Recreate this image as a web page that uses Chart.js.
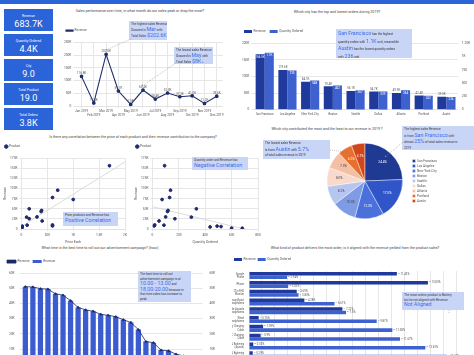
<!DOCTYPE html>
<html><head><meta charset="utf-8">
<script src="https://cdn.jsdelivr.net/npm/chart.js@4"></script>
<style>
html,body{margin:0;padding:0;background:#fff;width:474px;height:355px;overflow:hidden;font-family:Roboto,Arial,sans-serif;}
#topbar{position:absolute;left:0;top:0;width:474px;height:4px;background:#2b63d9;}
.card{position:absolute;left:4px;width:49px;height:22px;background:#2b63d9;color:#fff;text-align:center;}
.card .l{font-size:3.4px;line-height:4px;margin-top:5px;}
.card .v{font-size:9px;line-height:10px;margin-top:1px;}
.title{position:absolute;font-size:3.6px;color:#444;white-space:nowrap;transform:translateX(-50%);}
.box{position:absolute;background:#c9d5f7;color:#333;font-size:3.1px;line-height:5px;padding:1px 2px;box-sizing:border-box;white-space:nowrap;overflow:hidden;}
.box b{font-weight:normal;color:#3a6de3;font-size:5.3px;}
.wrap{position:absolute;}
canvas{display:block;}
svg{position:absolute;left:0;top:0;}
</style></head>
<body>
<div id="topbar"></div>
<div id="cards"></div>

<div class="title" style="left:140px;top:9px;">Sales performance over time, in what month do our sales peak or drop the most?</div>
<div class="title" style="left:337px;top:10px;">Which city has the top and lowest orders during 2019?</div>
<div class="title" style="left:133px;top:135px;">Is there any correlation between the price of each product and their revenue contribution to the company?</div>
<div class="title" style="left:327px;top:127px;">Which city contributed the most and the least to our revenue in 2019 ?</div>
<div class="title" style="left:100px;top:246px;">What time is the best time to roll out our advertisement campaign? (hour)</div>
<div class="title" style="left:355px;top:246px;">What kind of product delivers the most order, is it aligned with the revenue yielded from the product sales?</div>

<div class="wrap" style="left:62px;top:25px;"><canvas id="c1" width="166" height="93"></canvas></div>
<div class="wrap" style="left:236px;top:26px;"><canvas id="c2" width="236" height="91"></canvas></div>
<div class="wrap" style="left:2px;top:142px;"><canvas id="c3" width="128" height="103"></canvas></div>
<div class="wrap" style="left:133px;top:142px;"><canvas id="c4" width="130" height="103"></canvas></div>
<div class="wrap" style="left:319px;top:138px;"><canvas id="c5" width="128" height="86"></canvas></div>
<div class="wrap" style="left:0px;top:257px;"><canvas id="c6" width="222" height="117"></canvas></div>
<div class="wrap" style="left:232px;top:256px;"><canvas id="c7" width="236" height="113"></canvas></div>

<div class="box" id="b1" style="left:129px;top:21px;width:38px;height:19px;"></div>
<div class="box" id="b2" style="left:174px;top:47px;width:39px;height:17px;"></div>
<div class="box" id="b3" style="left:336px;top:29px;width:76px;height:29px;line-height:6.5px;padding-top:1px;"></div>
<div class="box" style="left:63px;top:212px;width:55px;height:14px;line-height:5px;">Price products and Revenue has<br><b>Positive Correlation</b></div>
<div class="box" style="left:192px;top:157px;width:56px;height:13px;line-height:5px;">Quantity order and Revenue has<br><b>Negative Correlation</b></div>
<div class="box" id="b4" style="left:402px;top:126px;width:72px;height:24px;line-height:5.5px;"></div>
<div class="box" id="b5" style="left:263px;top:140px;width:67px;height:19px;line-height:5.5px;"></div>
<div class="box" style="left:138px;top:271px;width:53px;height:31px;line-height:4.5px;">The best time to roll out<br>advertisement campaign is at<br><b>10.00 - 13.00</b> and<br><b>18.00-20.00</b> because in<br>that time sales has increase to<br>peak.</div>
<div class="box" style="left:402px;top:292px;width:62px;height:18px;line-height:4.5px;">The most orders product is Battery<br>but its not aligned with Revenue<br><b>Not Aligned</b></div>

<svg width="474" height="355">
<defs><marker id="ah" markerWidth="4" markerHeight="4" refX="3" refY="2" orient="auto"><path d="M0,0 L4,2 L0,4 z" fill="#888"/></marker></defs>
<g stroke="#888" stroke-width="0.5" stroke-dasharray="1,1" fill="none">
<line x1="131" y1="39" x2="106" y2="50" marker-end="url(#ah)"/>
<line x1="176" y1="63" x2="142" y2="86" marker-end="url(#ah)"/>
<line x1="403" y1="142" x2="385" y2="157" marker-end="url(#ah)"/>
<line x1="330" y1="150" x2="347" y2="152" marker-end="url(#ah)"/>
<line x1="449" y1="310" x2="449" y2="314"/>
</g>
</svg>

<script>
// ---------- DATA ----------
const kpiLabels=['Revenue','Quantity Ordered','City','Total Product','Total Orders'];
const kpiValues=['683.7K','4.4K','9.0','19.0','3.8K'];

const months=['Jan 2019','Feb 2019','Mar 2019','Apr 2019','May 2019','Jun 2019','Jul 2019','Aug 2019','Sep 2019','Oct 2019','Nov 2019','Dec 2019'];
const monthRevenue=[116800,13400,202600,59700,7500,63400,28400,52000,37300,41000,11200,39600];

const cities=['San Francisco','Los Angeles','New York City','Boston','Seattle','Dallas','Atlanta','Portland','Austin'];
const cityRevenue=[166500,119600,84100,70400,56100,54700,49900,42400,39000];
const cityQuantity=[1070,735,548,452,367,339,364,262,236];
const cityColors=['#1f3a93','#2f55c8','#4a70dc','#7f9be6','#b7c6f1','#f8d9cb','#f5bfa3','#e8702f','#d2461c'];

const productNames=['Macbook Pro Laptop','iPhone','Google Phone','ThinkPad Laptop','Apple Airpods Headphones','27in 4K Gaming Monitor','34in Ultrawide Monitor','Bose SoundSport Headphones','Flatscreen TV','27in FHD Monitor','Vareebadd Phone','LG Washing Machine','LG Dryer','20in Monitor','Lightning Charging Cable','USB-C Charging Cable','Wired Headphones','AA Batteries (4-pack)','AAA Batteries (4-pack)'];
const productPrice=[1700,700,600,999.99,150,389.99,379.99,99.99,300,149.99,400,600,600,109.99,14.95,11.95,11.99,3.84,2.99];
const productQuantity=[92,137,130,73,333,118,114,295,100,170,50,17,13,87,490,520,437,600,681];
const productRevenue=[156400,95900,78000,73000,50000,46000,43300,29500,30000,25500,20000,10200,7800,9600,7300,6200,5200,2300,2000];

const hours=['19','12','11','20','18','13','17','14','21','10','15','16','9','22','8','23','7','0','6','1','5','2','4','3'];
const hourRevenue=[51100,50900,49800,49500,46400,45500,41900,37400,35800,34900,32900,32200,31300,29300,27500,22800,14900,14200,9300,8800,6600,5400,3200,1500];

const shareProducts=['Google Phone','iPhone','27in FHD Monitor','Bose SoundSport Headphones','Apple Airpods Headphones','Wired Headphones','Lightning Charging Cable','USB-C Charging Cable','AA Batteries (4-pack)','AAA Batteries (4-pack)'];
const shareRevenuePct=[11.43,13.83,3.69,4.28,7.22,0.75,1.09,0.9,0.33,0.29];
const shareQuantityPct=[2.94,3.03,3.83,6.61,7.5,9.87,11.08,11.67,13.63,15.28];

// ---------- HELPERS ----------
Chart.defaults.font.family='Roboto, Arial, sans-serif';
Chart.defaults.font.size=3.2;
Chart.defaults.color='#555';
Chart.defaults.animation=false;
Chart.defaults.plugins.tooltip.enabled=false;
Chart.defaults.borderColor='#e3e3e3';
const FONT='Roboto, Arial, sans-serif';
const G={color:'#e6e6e6',tickLength:2};
const kfmt=v=>{if(v===0)return '0'; return Math.abs(v)>=1000?(v/1000)+'K':''+v;};
const k1=v=>(v/1000).toFixed(1)+'K';

function labelPlugin(items){
  return {id:'vlabels',afterDatasetsDraw(chart){
    const ctx=chart.ctx;
    items.forEach(it=>{
      const meta=chart.getDatasetMeta(it.ds);
      const data=chart.data.datasets[it.ds].data;
      meta.data.forEach((el,i)=>{
        const v=data[i]; const p=it.pos(el,v,i);
        ctx.save(); ctx.font=(it.size||3)+'px '+FONT;
        ctx.fillStyle=p.color||it.color||'#555';
        ctx.textAlign=p.align||'center'; ctx.textBaseline=p.base||'bottom';
        ctx.fillText(it.fmt(v,i),p.x,p.y); ctx.restore();
      });
    });
  }};
}
function trend(xs,ys,x0,x1){
  const n=xs.length; let sx=0,sy=0,sxx=0,sxy=0;
  for(let i=0;i<n;i++){sx+=xs[i];sy+=ys[i];sxx+=xs[i]*xs[i];sxy+=xs[i]*ys[i];}
  const b=(n*sxy-sx*sy)/(n*sxx-sx*sx), a=(sy-b*sx)/n;
  return [{x:x0,y:a+b*x0},{x:x1,y:a+b*x1}];
}

// ---------- KPI CARDS ----------
const cardsEl=document.getElementById('cards');
kpiLabels.forEach((l,i)=>{
  const d=document.createElement('div'); d.className='card';
  d.style.top=(9+i*24.8)+'px';
  d.innerHTML='<div class="l">'+l+'</div><div class="v">'+kpiValues[i]+'</div>';
  cardsEl.appendChild(d);
});

// annotation texts from data
const iMax=monthRevenue.indexOf(Math.max(...monthRevenue));
const iMin=monthRevenue.indexOf(Math.min(...monthRevenue));
document.getElementById('b1').innerHTML='The highest sales Revenue<br>Occured in <b>'+months[iMax].slice(0,3)+'</b> with<br>Total Sales <b>$'+k1(monthRevenue[iMax])+'</b> &raquo;';
document.getElementById('b2').innerHTML='The lowest sales Revenue<br>Occured in <b>'+months[iMin].slice(0,3)+'</b> with<br>Total Sales <b>$'+Math.round(monthRevenue[iMin]/1000)+'K</b> &raquo;';
document.getElementById('b3').innerHTML='<b>San Francisco</b> has the highest<br>quantity orders with <b>'+(cityQuantity[0]/1000).toFixed(1)+'K</b> unit, meanwhile<br><b>Austin</b> has the lowest quantity orders<br>only <b>'+cityQuantity[8]+'</b> unit';
const totRev=cityRevenue.reduce((a,b)=>a+b,0);
document.getElementById('b4').innerHTML='The highest sales Revenue<br>is from <b>San Francisco</b> with<br>almost <b>25%</b> of total sales revenue in<br>2019';
document.getElementById('b5').innerHTML='The lowest sales Revenue<br>is from <b>Austin</b> with <b>'+(cityRevenue[8]/totRev*100).toFixed(1)+'%</b><br>of total sales revenue in 2019';

// ---------- 1. LINE ----------
new Chart(document.getElementById('c1'),{
  type:'line',
  data:{labels:months,datasets:[{label:'Revenue',data:monthRevenue,borderColor:'#1f2b6b',backgroundColor:'#1f2b6b',borderWidth:1.1,pointRadius:1.3,tension:0}]},
  options:{responsive:false,layout:{padding:{right:4}},
    plugins:{legend:{position:'top',align:'start',labels:{boxWidth:7,boxHeight:1,padding:4}}},
    scales:{
      x:{offset:true,grid:G,ticks:{autoSkip:false,maxRotation:0,padding:1,callback:(v,i)=>i%2?['',months[i]]:months[i]}},
      y:{min:0,max:250000,grid:G,border:{display:false},ticks:{stepSize:50000,padding:2,callback:kfmt}}
    }},
  plugins:[labelPlugin([{ds:0,fmt:v=>k1(v),pos:el=>({x:el.x,y:el.y-1.5})}])]
});

// ---------- 2. CITY BARS ----------
new Chart(document.getElementById('c2'),{
  type:'bar',
  data:{labels:cities,datasets:[
    {label:'Revenue',data:cityRevenue,backgroundColor:'#1f3a9c',yAxisID:'y',categoryPercentage:0.8,barPercentage:1},
    {label:'Quantity Ordered',data:cityQuantity,backgroundColor:'#3e61d0',yAxisID:'y1',categoryPercentage:0.8,barPercentage:1}]},
  options:{responsive:false,layout:{padding:{left:4}},
    plugins:{legend:{position:'top',align:'start',labels:{boxWidth:8,boxHeight:3,padding:4}}},
    scales:{
      x:{grid:{display:false,tickLength:2},ticks:{autoSkip:false,maxRotation:0,padding:1,font:{size:2.8}}},
      y:{min:0,max:200000,grid:G,border:{display:false},ticks:{stepSize:50000,padding:2,callback:kfmt}},
      y1:{position:'right',min:0,max:1250,grid:{display:false,tickLength:2},border:{display:false},ticks:{stepSize:250,padding:2,callback:v=>v>=1000?(v/1000)+'K':v}}
    }},
  plugins:[labelPlugin([
    {ds:0,fmt:v=>k1(v),pos:el=>(el.base-el.y>50?{x:el.x,y:el.y+1,base:'top',color:'#fff'}:{x:el.x,y:el.y-1,color:'#555'})},
    {ds:1,fmt:v=>v>=1000?(v/1000).toFixed(1)+'K':''+v,pos:el=>({x:el.x,y:el.y+1,base:'top',color:'#fff'})}
  ])]
});

// ---------- 3/4. SCATTERS ----------
function scatter(id,xs,xmax,xstep,xtitle){
  new Chart(document.getElementById(id),{
    type:'scatter',
    data:{datasets:[
      {label:'Product',data:xs.map((x,i)=>({x:x,y:productRevenue[i]})),backgroundColor:'#1f2b6b',borderColor:'#1f2b6b',pointRadius:1.4},
      {type:'line',label:'trend',data:trend(xs,productRevenue,0,xmax),borderColor:'#d3d3d3',borderWidth:0.8,pointRadius:0}]},
    options:{responsive:false,
      plugins:{legend:{position:'top',align:'start',labels:{usePointStyle:true,pointStyle:'circle',boxWidth:2.5,boxHeight:2.5,padding:3,filter:it=>it.datasetIndex===0}}},
      scales:{
        x:{type:'linear',min:0,max:xmax,grid:G,ticks:{stepSize:xstep,maxRotation:0,padding:2,callback:v=>v>=1000?(v/1000)+'K':v},title:{display:true,text:xtitle,font:{size:3.4},padding:1}},
        y:{min:0,max:175000,grid:G,border:{display:false},ticks:{stepSize:25000,padding:2,callback:kfmt},title:{display:true,text:'Revenue',font:{size:3.4},padding:1}}
      }}
  });
}
scatter('c3',productPrice,2000,500,'Price Each');
scatter('c4',productQuantity,800,200,'Quantity Ordered');

// ---------- 5. PIE ----------
const pieTotal=cityRevenue.reduce((a,b)=>a+b,0);
new Chart(document.getElementById('c5'),{
  type:'pie',
  data:{labels:cities,datasets:[{data:cityRevenue,backgroundColor:cityColors,borderColor:'#fff',borderWidth:0.4}]},
  options:{responsive:false,layout:{padding:{top:5,bottom:5}},
    plugins:{legend:{position:'right',labels:{boxWidth:3,boxHeight:3,padding:1.8}}}},
  plugins:[{id:'pielbl',afterDatasetsDraw(chart){
    const ctx=chart.ctx; const meta=chart.getDatasetMeta(0);
    meta.data.forEach((arc,i)=>{
      const a=(arc.startAngle+arc.endAngle)/2, r=arc.outerRadius*0.68;
      ctx.save(); ctx.font='3.2px '+FONT; ctx.textAlign='center'; ctx.textBaseline='middle';
      ctx.fillStyle=(i<3||i>6)?'#fff':'#444';
      ctx.fillText((cityRevenue[i]/pieTotal*100).toFixed(1)+'%',arc.x+Math.cos(a)*r,arc.y+Math.sin(a)*r);
      ctx.restore();
    });
  }}]
});

// ---------- 6. HOURLY ----------
new Chart(document.getElementById('c6'),{
  data:{labels:hours,datasets:[
    {type:'line',label:'Revenue',data:hourRevenue,borderColor:'#1b2a66',backgroundColor:'#1b2a66',borderWidth:0.8,pointRadius:0.9,yAxisID:'y',order:0},
    {type:'bar',label:'Revenue',data:hourRevenue,backgroundColor:'#3b5bd0',yAxisID:'y',categoryPercentage:1,barPercentage:0.7,order:1}]},
  options:{responsive:false,layout:{padding:{left:4,right:2}},
    plugins:{legend:{position:'top',align:'start',labels:{boxWidth:9,boxHeight:3,padding:3}}},
    scales:{
      x:{grid:{display:false,tickLength:2},ticks:{autoSkip:false,maxRotation:0,padding:2}},
      y:{min:0,max:60000,grid:G,border:{display:false},ticks:{stepSize:10000,padding:5,callback:kfmt}},
      y1:{position:'right',min:0,max:60000,grid:{display:false,tickLength:2},border:{display:false},ticks:{stepSize:10000,padding:5,callback:kfmt}}
    }}
});

// ---------- 7. PRODUCT SHARE ----------
const split2=s=>{const w=s.split(' '); if(w.length<2) return s; const h=Math.ceil(w.length/2); return [w.slice(0,h).join(' '),w.slice(h).join(' ')];};
new Chart(document.getElementById('c7'),{
  type:'bar',
  data:{labels:shareProducts,datasets:[
    {label:'Revenue',data:shareRevenuePct,backgroundColor:'#1f3a9c',categoryPercentage:0.8,barPercentage:1},
    {label:'Quantity Ordered',data:shareQuantityPct,backgroundColor:'#3e61d0',categoryPercentage:0.8,barPercentage:1}]},
  options:{indexAxis:'y',responsive:false,layout:{padding:{right:12}},
    plugins:{legend:{position:'top',align:'start',labels:{boxWidth:8,boxHeight:3,padding:2}}},
    scales:{
      x:{min:0,max:16,grid:G,ticks:{stepSize:1,padding:2}},
      y:{grid:{display:false,tickLength:2},afterFit:s=>{s.width=17;},ticks:{autoSkip:false,font:{size:2.6},callback:(v,i)=>split2(shareProducts[i])}}
    }},
  plugins:[labelPlugin([
    {ds:0,fmt:v=>'– '+v+'%',pos:el=>({x:el.x+1,y:el.y,align:'left',base:'middle'}),size:2.8},
    {ds:1,fmt:v=>'– '+v+'%',pos:el=>({x:el.x+1,y:el.y,align:'left',base:'middle'}),size:2.8}
  ])]
});
</script>
</body></html>
